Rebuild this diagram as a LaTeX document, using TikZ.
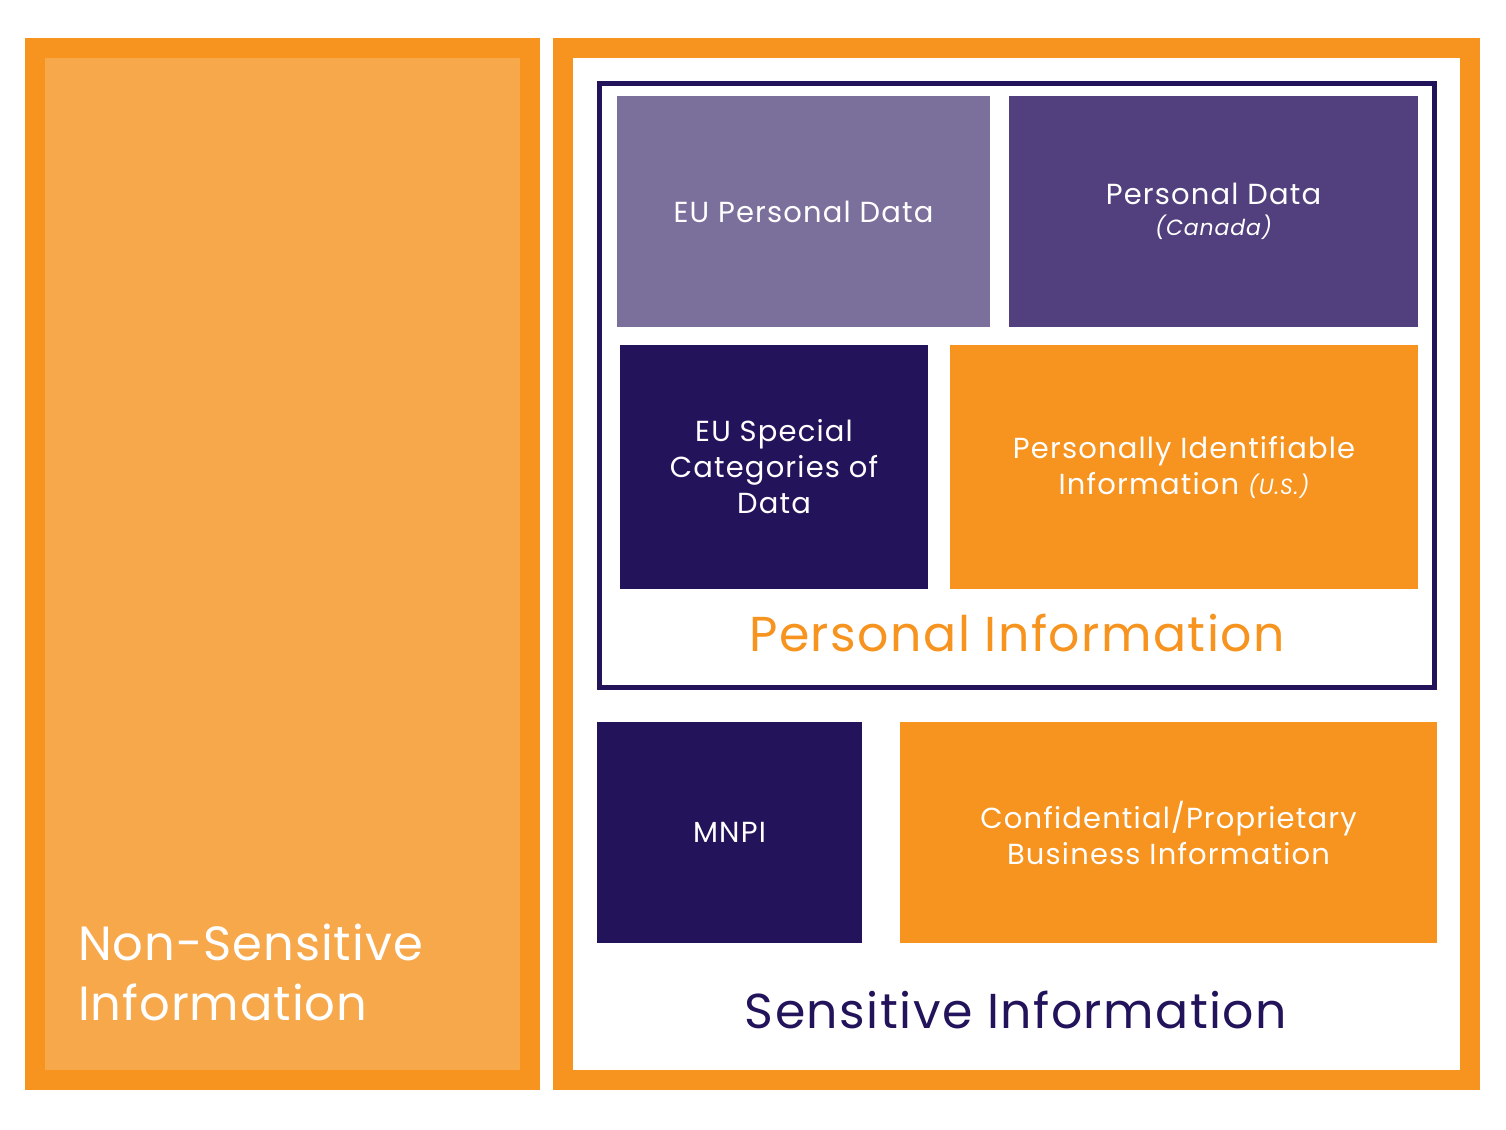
\documentclass[tikz,border=0pt]{standalone}
\usepackage{fontspec}
\setmainfont{Poppins}
\newfontfamily\boxfont[LetterSpace=4]{Poppins}
\newfontfamily\bigfont[LetterSpace=3]{Poppins}
\newfontfamily\nsfont[LetterSpace=2]{Poppins}
\definecolor{orng}{HTML}{F7931F}
\definecolor{lorng}{HTML}{F7A84B}
\definecolor{lpurp}{HTML}{7B6F9C}
\definecolor{mpurp}{HTML}{51407D}
\definecolor{navy}{HTML}{23135B}
\begin{document}
\begin{tikzpicture}[x=1pt,y=-1pt,
  blk/.style={anchor=north west,inner sep=0pt,outer sep=0pt,align=center,text=white,
    font=\boxfont\fontsize{29}{36}\selectfont},
  frame/.style={anchor=north west,inner sep=0pt,outer sep=0pt}]
\useasboundingbox[fill=white] (0,0) rectangle (1506,1129);
% left panel
\node[frame,fill=orng,minimum width=515pt,minimum height=1052pt] (nsout) at (25,38) {};
\node[frame,fill=lorng,minimum width=475pt,minimum height=1012pt] (nsin) at (45,58) {};
\node[anchor=west,align=left,text=white,inner sep=0pt,font=\nsfont\fontsize{48}{60}\selectfont] (nslab) at (78,972) {Non-Sensitive\\Information};
% right panel
\node[frame,fill=orng,minimum width=927pt,minimum height=1052pt] (sout) at (553,38) {};
\node[frame,fill=white,minimum width=887pt,minimum height=1012pt] (sin) at (573,58) {};
% personal info frame
\node[frame,draw=navy,line width=5pt,minimum width=835pt,minimum height=604pt] (pi) at (599.5,83.5) {};
\node[blk,fill=lpurp,minimum width=373pt,minimum height=231pt] (eupd) at (617,96) {EU Personal Data};
\node[blk,fill=mpurp,minimum width=409pt,minimum height=231pt] (pdc) at (1009,96) {Personal Data\\[-5pt]{\fontsize{22}{26}\selectfont\itshape (Canada)}};
\node[blk,fill=navy,minimum width=308pt,minimum height=244pt] (eusc) at (620,345) {EU Special\\Categories of\\Data};
\node[blk,fill=orng,minimum width=468pt,minimum height=244pt] (pii) at (950,345) {Personally Identifiable\\Information {\fontsize{22}{26}\selectfont\itshape (U.S.)}};
\node[text=orng,inner sep=0pt,font=\bigfont\fontsize{49}{56}\selectfont] (pilab) at (1017,633) {Personal Information};
% sensitive
\node[blk,fill=navy,minimum width=265pt,minimum height=221pt] (mnpi) at (597,722) {MNPI};
\node[blk,fill=orng,minimum width=537pt,minimum height=221pt] (cpbi) at (900,722) {Confidential/Proprietary\\Business Information};
\node[text=navy,inner sep=0pt,font=\bigfont\fontsize{49}{56}\selectfont] (silab) at (1016,1010) {Sensitive Information};
\end{tikzpicture}
\end{document}
